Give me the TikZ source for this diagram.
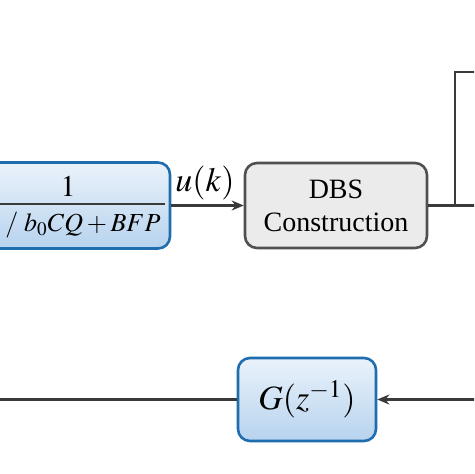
\documentclass[tikz,border=0pt]{standalone}
\usepackage{mathptmx}
\usepackage{fontspec}
\setmainfont{Liberation Serif}
\usetikzlibrary{arrows.meta}
\definecolor{bluefillT}{HTML}{EAF2FB}
\definecolor{bluefillB}{HTML}{B7D3EE}
\definecolor{blueline}{HTML}{1F6CAE}
\definecolor{grayfill}{HTML}{EBEBEB}
\definecolor{grayline}{HTML}{505050}
\definecolor{wire}{HTML}{3A3A3A}
\begin{document}
\begin{tikzpicture}[x=0.5pt,y=-0.5pt,
 bluebox/.style={draw=blueline, line width=1.3pt, rounded corners=6pt, top color=bluefillT, bottom color=bluefillB, inner sep=0pt},
 graybox/.style={draw=grayline, line width=1.3pt, rounded corners=6pt, fill=grayfill, inner sep=0pt, align=center, font=\fontsize{14}{16.5}\selectfont},
 wireline/.style={draw=wire, line width=1.1pt},
 arr/.style={wireline, -{Stealth[length=6pt,width=5pt]}}
]
\useasboundingbox (0,0) rectangle (474,474);
\clip (0,0) rectangle (474,474);
\fill[white] (0,0) rectangle (474,474);

% controller block (partly cut off at the left)
\node[bluebox, minimum width=115pt, minimum height=43pt] (ctrl) at (55,205.5) {};
\node[font=\fontsize{15}{17}\selectfont] (num) at (68,186) {$1$};
\coordinate (fracL) at (-30,204);
\coordinate (fracR) at (165,204);
\draw[draw=wire, line width=0.9pt] (fracL) -- (fracR);
\node[anchor=base west, inner sep=0pt, font=\fontsize{13}{15.5}\selectfont] (den) at (5,232) {$/\;b_{0}CQ+BFP$};

% DBS block
\node[graybox, minimum width=91pt, minimum height=42.5pt] (dbs) at (336,205.5) {DBS\\Construction};

% G block
\node[bluebox, minimum width=69pt, minimum height=41.5pt, font=\fontsize{17}{20}\selectfont] (g) at (307,399.5) {$G(z^{-1})$};

% label
\node[anchor=base, inner sep=0pt, font=\fontsize{17}{20}\selectfont] (ulab) at (205,192) {$u(k)$};

% connectors
\coordinate (j) at (455,205.5);
\coordinate (rout) at (480,205.5);
\coordinate (ttop) at (455,72);
\coordinate (tout) at (480,72);
\coordinate (gin) at (480,399.5);
\coordinate (gout) at (-10,399.5);

\draw[arr] (ctrl.east) -- (dbs.west);
\draw[wireline] (dbs.east) -- (rout);
\draw[wireline] (j) -- (ttop) -- (tout);
\draw[arr] (gin) -- (g.east);
\draw[wireline] (g.west) -- (gout);
\end{tikzpicture}
\end{document}
